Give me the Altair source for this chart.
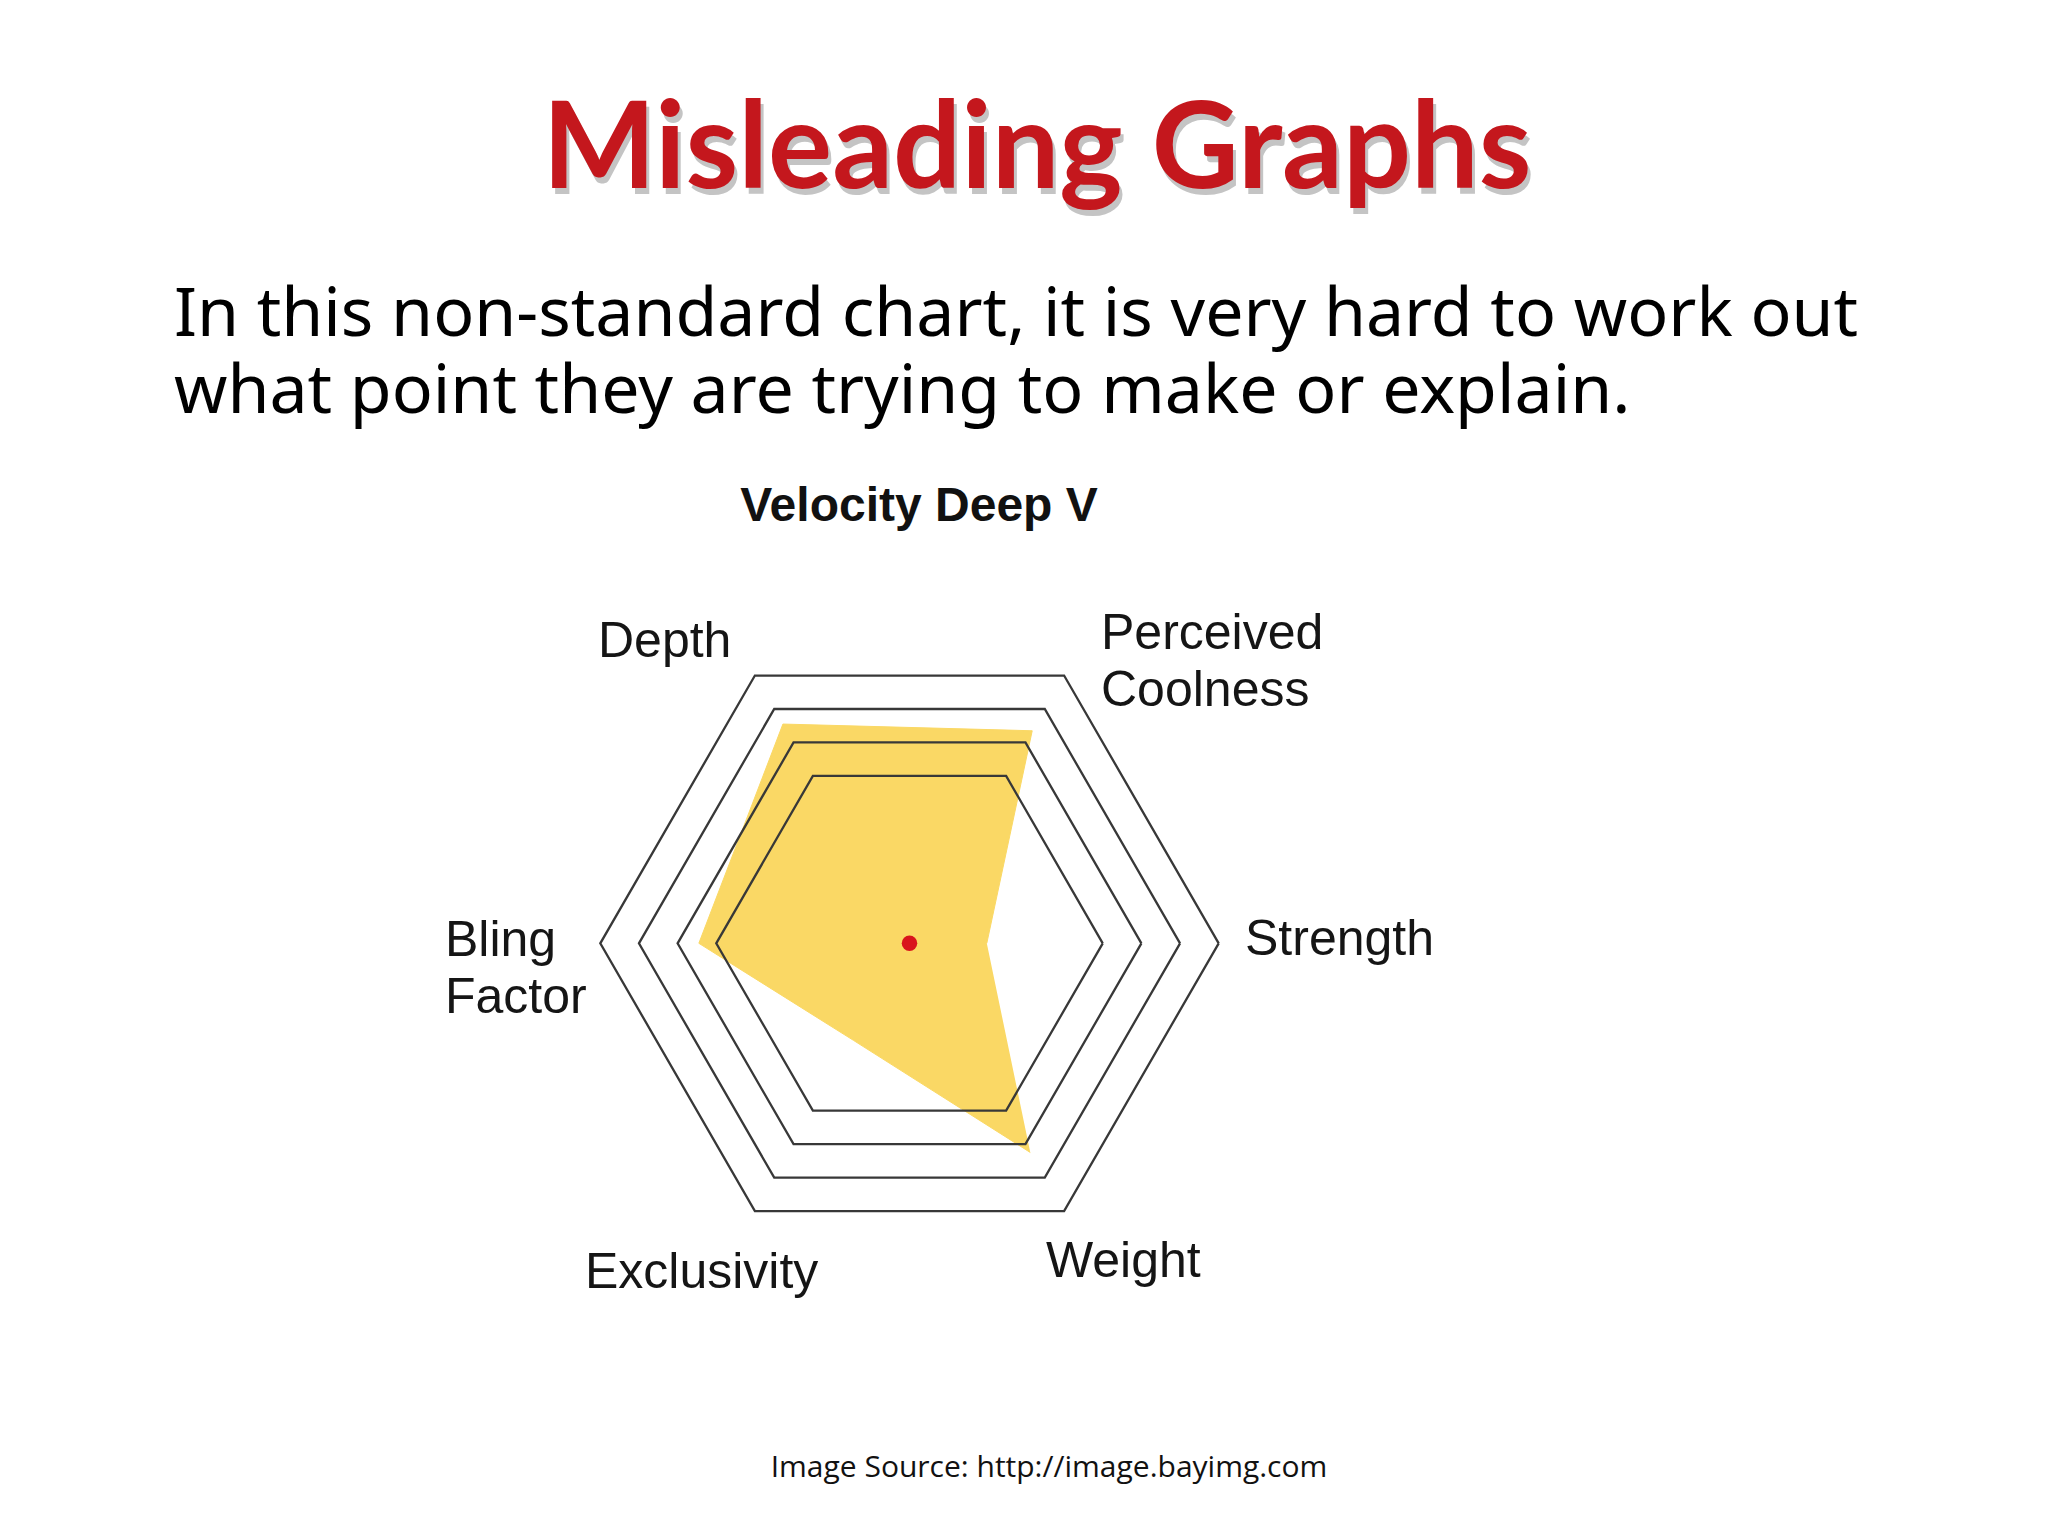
import altair as alt
import pandas as pd

# ---------------- data ----------------
axis_names = ["Strength", "Perceived Coolness", "Depth", "Bling Factor", "Exclusivity", "Weight"]
axis_angles = [0, 60, 120, 180, 240, 300]
scores = [2.0, 6.35, 6.55, 5.45, 2.9, 6.25]
ring_levels = [5, 6, 7, 8]

title_text = "Misleading Graphs"
subtitle_lines = [
    "In this non-standard chart, it is very hard to work out",
    "what point they are trying to make or explain.",
]
chart_title = "Velocity Deep V"
source_text = "Image Source: http://image.bayimg.com"

# ---------------- layout ----------------
W, H = 2030, 1516
CX, CY = 901.5, 935.3      # radar centre inside the plot area (px)
UNIT = 38.65               # px per score unit
xdom = [-CX / UNIT, (W - CX) / UNIT]
ydom = [-(H - CY) / UNIT, CY / UNIT]

xs = alt.Scale(domain=xdom, nice=False, zero=False)
ys = alt.Scale(domain=ydom, nice=False, zero=False)

poly_df = pd.DataFrame({"axis": axis_names, "angle": axis_angles, "score": scores,
                        "ord": list(range(len(axis_names)))})

ring_rows = []
for lv in ring_levels:
    for i, a in enumerate(axis_angles + [360]):
        ring_rows.append({"level": lv, "angle": a, "ord": i})
ring_df = pd.DataFrame(ring_rows)

centre_df = pd.DataFrame({"score": [0], "angle": [0]})

polar = dict(
    px="datum.r * cos(datum.angle * PI / 180)",
    py="datum.r * sin(datum.angle * PI / 180)",
)

shape = alt.Chart(poly_df).transform_calculate(r="datum.score").transform_calculate(**polar).mark_line(
    fill="#FAD865", stroke="#FAD865", strokeWidth=1, strokeJoin="miter"
).encode(
    x=alt.X("px:Q", scale=xs, axis=None),
    y=alt.Y("py:Q", scale=ys, axis=None),
    order="ord:O",
)

rings = alt.Chart(ring_df).transform_calculate(r="datum.level").transform_calculate(**polar).mark_line(
    color="#383838", strokeWidth=2.3, strokeJoin="miter"
).encode(
    x=alt.X("px:Q", scale=xs, axis=None),
    y=alt.Y("py:Q", scale=ys, axis=None),
    detail="level:N",
    order="ord:Q",
)

centre = alt.Chart(centre_df).transform_calculate(r="datum.score").transform_calculate(**polar).mark_circle(
    color="#D9141C", size=240, opacity=1
).encode(
    x=alt.X("px:Q", scale=xs, axis=None),
    y=alt.Y("py:Q", scale=ys, axis=None),
)


def txt(s, x, y, size, font, weight="normal", color="#111111", align="left", dx=0, dy=0,
        opacity=1.0, line_height=None):
    extra = {}
    if line_height is not None:
        extra = {"lineBreak": "\n", "lineHeight": line_height}
    return alt.Chart(pd.DataFrame({"t": [s]})).mark_text(
        font=font, fontSize=size, fontWeight=weight, color=color, align=align,
        baseline="alphabetic", dx=dx, dy=dy, opacity=opacity, **extra
    ).encode(x=alt.value(x), y=alt.value(y), text="t:N")


OFF = 8  # page margin
layers = [shape, rings, centre]

# title with drop shadow
layers.append(txt(title_text, 1037 - OFF, 188 - OFF, 120, "Lato", "bold", "#8a8a8a", "center", dx=3, dy=6, opacity=0.5))
layers.append(txt(title_text, 1037 - OFF, 188 - OFF, 120, "Lato", "bold", "#C4171D", "center"))

# subtitle (one two-line text)
layers.append(txt("\n".join(subtitle_lines), 174 - OFF, 336 - OFF, 68, "Noto Sans", "normal", "#000000",
                  line_height=77))

# chart title
layers.append(txt(chart_title, 919 - OFF, 521 - OFF, 48, "Liberation Sans", "bold", "#111111", "center"))

# axis labels
label_pos = {
    "Depth": [(598, 657, "Depth")],
    "Perceived Coolness": [(1101, 649, "Perceived\nCoolness")],
    "Strength": [(1245, 955, "Strength")],
    "Weight": [(1046, 1277, "Weight")],
    "Exclusivity": [(585, 1288, "Exclusivity")],
    "Bling Factor": [(445, 956, "Bling\nFactor")],
}
for name in axis_names:
    for (lx, ly, s) in label_pos[name]:
        layers.append(txt(s, lx - OFF, ly - OFF, 50, "Liberation Sans", "normal", "#151515",
                          line_height=57))

# source
layers.append(txt(source_text, 1049 - OFF, 1477 - OFF, 30, "Open Sans", "normal", "#111111", "center"))

chart = alt.layer(*layers).properties(
    width=W, height=H, padding=0, autosize="none", background="#ffffff"
).configure_view(stroke=None)

chart.save("out.html", embed_options={"renderer": "svg", "actions": False})
